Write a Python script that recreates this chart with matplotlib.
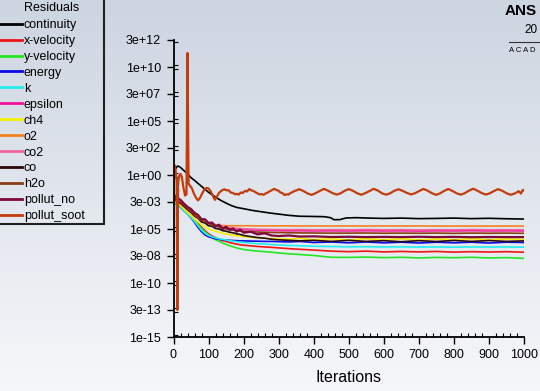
import numpy as np
import matplotlib
matplotlib.use('Agg')
import matplotlib.pyplot as plt
from matplotlib.colors import LinearSegmentedColormap
from matplotlib.lines import Line2D
from matplotlib.patches import Rectangle
from matplotlib.ticker import FixedLocator, MultipleLocator, FuncFormatter, NullFormatter

plt.rcParams['font.family'] = ['Liberation Sans', 'DejaVu Sans']

# iterations shared by most residual series
iters = [0, 4, 8, 12, 16, 20, 30, 40, 50, 60, 70,
         80, 90, 100, 110, 120, 130, 140, 150, 160, 170, 180,
         190, 200, 220, 240, 260, 280, 300, 330, 360, 400, 450,
         500, 550, 600, 650, 700, 750, 800, 850, 900, 950, 1000]

# all residuals given as log10(value)
continuity_iters = [0, 4, 8, 12, 16, 20, 30, 40, 50, 60, 70, 80, 90, 100,
                    110, 120, 135, 150, 165, 180, 200, 225, 250, 275, 300, 330, 360, 400,
                    430, 448, 458, 475, 492, 520, 560, 600, 650, 700, 750, 800, 850, 900, 950, 1000]
continuity = [0.1, 0.4, 0.7, 0.83, 0.78, 0.7, 0.4, 0.12, -0.25, -0.5, -0.78, -1.05, -1.33, -1.6,
              -1.83, -2.05, -2.35, -2.6, -2.83, -3.0, -3.12, -3.28, -3.4, -3.52, -3.62, -3.74, -3.82, -3.84,
              -3.86, -3.95, -4.14, -4.13, -3.98, -3.95, -3.99, -4.02, -3.99, -4.04, -4.02, -3.99, -4.04, -4.01, -4.05, -4.08]

x_velocity = [-2.5, -2.45, -2.6, -2.7, -2.8, -2.85, -3.25, -3.55, -3.85, -4.2, -4.5,
              -4.85, -5.15, -5.45, -5.65, -5.8, -5.95, -6.08, -6.15, -6.25, -6.33, -6.4,
              -6.46, -6.5, -6.56, -6.62, -6.66, -6.7, -6.75, -6.82, -6.88, -6.95, -7.05,
              -7.1, -7.05, -7.12, -7.08, -7.12, -7.08, -7.14, -7.1, -7.13, -7.1, -7.15]
y_velocity = [-2.6, -2.55, -2.65, -2.75, -2.85, -2.9, -3.3, -3.6, -3.9, -4.25, -4.6,
              -4.95, -5.25, -5.55, -5.8, -6.0, -6.15, -6.3, -6.42, -6.55, -6.65, -6.75,
              -6.83, -6.9, -6.98, -7.05, -7.1, -7.15, -7.22, -7.3, -7.36, -7.45, -7.62,
              -7.63, -7.6, -7.65, -7.62, -7.68, -7.63, -7.66, -7.62, -7.68, -7.65, -7.72]
energy = [-2.6, -2.5, -2.7, -2.8, -2.9, -3.0, -3.3, -3.6, -3.95, -4.4, -4.85,
          -5.25, -5.55, -5.72, -5.82, -5.9, -5.95, -6.0, -6.02, -6.05, -6.07, -6.08,
          -6.1, -6.1, -6.12, -6.13, -6.15, -6.15, -6.17, -6.2, -6.15, -6.25, -6.2,
          -6.28, -6.2, -6.28, -6.22, -6.3, -6.22, -6.28, -6.22, -6.3, -6.22, -6.25]
k_res = [-2.7, -2.6, -2.75, -2.85, -2.95, -3.0, -3.3, -3.6, -3.9, -4.3, -4.7,
         -5.1, -5.4, -5.6, -5.72, -5.82, -5.9, -5.96, -6.02, -6.07, -6.12, -6.17,
         -6.21, -6.25, -6.31, -6.36, -6.4, -6.44, -6.48, -6.52, -6.55, -6.6, -6.62,
         -6.65, -6.64, -6.66, -6.65, -6.67, -6.66, -6.68, -6.66, -6.67, -6.66, -6.68]
epsilon = [-2.3, -2.2, -2.35, -2.45, -2.5, -2.55, -2.8, -3.1, -3.35, -3.65, -3.9,
           -4.15, -4.3, -4.45, -4.55, -4.65, -4.72, -4.8, -4.86, -4.92, -4.96, -5.0,
           -5.03, -5.05, -5.08, -5.1, -5.12, -5.14, -5.15, -5.17, -5.16, -5.18, -5.17,
           -5.18, -5.16, -5.18, -5.17, -5.19, -5.17, -5.18, -5.16, -5.18, -5.17, -5.18]
ch4 = [-2.5, -2.4, -2.55, -2.65, -2.75, -2.8, -3.15, -3.45, -3.75, -4.05, -4.35,
       -4.6, -4.8, -4.98, -5.1, -5.2, -5.3, -5.4, -5.47, -5.52, -5.57, -5.62,
       -5.65, -5.7, -5.76, -5.8, -5.85, -5.88, -5.9, -5.95, -5.86, -6.0, -5.9,
       -6.02, -5.9, -6.0, -5.9, -6.02, -5.92, -6.0, -5.9, -6.0, -5.92, -5.98]
o2 = [-2.4, -2.3, -2.45, -2.55, -2.6, -2.65, -2.95, -3.25, -3.5, -3.8, -4.0,
      -4.2, -4.35, -4.47, -4.56, -4.62, -4.66, -4.68, -4.69, -4.7, -4.7, -4.7,
      -4.7, -4.7, -4.7, -4.71, -4.71, -4.71, -4.71, -4.71, -4.72, -4.72, -4.72,
      -4.72, -4.72, -4.72, -4.72, -4.72, -4.73, -4.73, -4.73, -4.73, -4.73, -4.73]
co2 = [-2.2, -2.1, -2.3, -2.4, -2.45, -2.5, -2.75, -3.05, -3.3, -3.6, -3.85,
       -4.1, -4.25, -4.4, -4.5, -4.6, -4.68, -4.75, -4.8, -4.85, -4.9, -4.93,
       -4.96, -4.98, -5.0, -5.02, -5.03, -5.04, -5.05, -5.06, -5.05, -5.07, -5.06,
       -5.07, -5.05, -5.07, -5.06, -5.08, -5.06, -5.07, -5.05, -5.07, -5.06, -5.07]
co = [-2.3, -2.2, -2.35, -2.45, -2.55, -2.6, -2.9, -3.2, -3.45, -3.8, -4.0,
      -4.35, -4.45, -4.7, -4.75, -4.95, -5.0, -5.15, -5.2, -5.3, -5.35, -5.45,
      -5.5, -5.6, -5.7, -5.8, -5.85, -5.95, -6.0, -6.05, -6.1, -6.05, -6.15,
      -6.05, -6.15, -6.08, -6.18, -6.08, -6.16, -6.06, -6.15, -6.07, -6.15, -6.1]
h2o = [-2.2, -2.1, -2.25, -2.35, -2.45, -2.5, -2.8, -3.1, -3.35, -3.7, -3.95,
       -4.2, -4.35, -4.5, -4.62, -4.72, -4.82, -4.92, -5.0, -5.05, -5.1, -5.15,
       -5.2, -5.22, -5.25, -5.28, -5.3, -5.32, -5.33, -5.35, -5.36, -5.37, -5.38,
       -5.38, -5.37, -5.39, -5.38, -5.39, -5.38, -5.4, -5.38, -5.39, -5.38, -5.4]
pollut_no = [-2.0, -1.9, -2.1, -2.05, -2.25, -2.3, -2.65, -2.95, -3.15, -3.5, -3.7,
             -4.1, -4.1, -4.45, -4.4, -4.75, -4.6, -5.0, -4.8, -5.1, -4.95, -5.25,
             -5.05, -5.35, -5.25, -5.5, -5.4, -5.6, -5.65, -5.6, -5.7, -5.68, -5.74,
             -5.72, -5.75, -5.73, -5.75, -5.72, -5.75, -5.73, -5.76, -5.74, -5.75, -5.75]

pollut_soot_iters = [0, 3, 6, 9, 11, 13, 16, 20, 24, 28, 33, 37, 40, 43, 47,
                     52, 58, 64, 70, 76, 82, 88, 94, 100, 106, 112, 118, 124, 130, 137,
                     145, 151, 157, 163, 169, 175, 181, 186, 192, 198, 204, 210,
                     216, 222, 228, 234, 240, 246, 252, 257, 263, 269, 275, 281,
                     287, 293, 299, 305, 311, 317, 323, 328, 334, 340, 346, 352,
                     358, 370, 382, 394, 405, 417,
                     429, 441, 453, 465, 476, 488, 500, 512, 524, 536, 547, 559,
                     571, 583, 595, 607, 618, 630, 642, 654, 666, 678, 689, 701,
                     713, 725, 737, 749, 760, 772, 784, 796, 808, 820, 831, 843,
                     855, 867, 879, 891, 902, 914, 926, 938, 950, 962, 973, 985,
                     991, 997, 1000]
pollut_soot = [0.3, 0.9, 0.4, -0.6, -12.5, -0.8, -0.1, 0.1, -0.2, -1.1, -1.9, -1.8, 11.3, -0.8, -1.0,
               -1.2, -1.7, -2.1, -2.35, -2.1, -1.7, -1.35, -1.2, -1.25, -1.5, -1.9, -2.3, -2.0, -1.65, -1.45,
               -1.32, -1.42, -1.40, -1.62, -1.66, -1.78, -1.74, -1.82, -1.62, -1.66, -1.47, -1.52,
               -1.30, -1.42, -1.48, -1.60, -1.70, -1.80, -1.76, -1.84, -1.70, -1.62, -1.50, -1.40,
               -1.28, -1.38, -1.44, -1.62, -1.68, -1.86, -1.78, -1.82, -1.66, -1.58, -1.46, -1.42,
               -1.31, -1.47, -1.70, -1.84, -1.69, -1.48,
               -1.29, -1.45, -1.67, -1.81, -1.71, -1.47, -1.30, -1.46, -1.69, -1.83, -1.68, -1.49,
               -1.28, -1.44, -1.70, -1.82, -1.70, -1.46, -1.32, -1.47, -1.66, -1.80, -1.69, -1.48,
               -1.29, -1.45, -1.68, -1.84, -1.71, -1.47, -1.30, -1.48, -1.70, -1.82, -1.68, -1.45,
               -1.27, -1.45, -1.67, -1.81, -1.70, -1.49, -1.31, -1.46, -1.69, -1.83, -1.72, -1.50,
               -1.72, -1.38, -1.42]

labels = ['continuity', 'x-velocity', 'y-velocity', 'energy', 'k', 'epsilon', 'ch4',
          'o2', 'co2', 'co', 'h2o', 'pollut_no', 'pollut_soot']
colors = ['#000000', '#f01414', '#22e622', '#0a0ae6', '#22eeee', '#f0109a', '#f5ef00',
          '#f5801e', '#f2649c', '#2a0808', '#8c3c14', '#7d0a3c', '#c23c0c']


def main():
    fig = plt.figure(figsize=(5.4, 3.91), dpi=100)

    # background gradient
    bg = fig.add_axes([0, 0, 1, 1], zorder=-10)
    cmap = LinearSegmentedColormap.from_list('bg', ['#f6f7fa', '#cdd5e1'])
    bg.imshow(np.linspace(0, 1, 256).reshape(-1, 1), cmap=cmap, origin='lower',
              aspect='auto', extent=[0, 1, 0, 1])
    bg.axis('off')

    ax = fig.add_axes([173.5 / 540, 1 - 337 / 391, 350.5 / 540, 297 / 391])
    ax.patch.set_alpha(0)

    series = [(continuity_iters, continuity), (iters, x_velocity), (iters, y_velocity),
              (iters, energy), (iters, k_res), (iters, epsilon), (iters, ch4), (iters, o2),
              (iters, co2), (iters, co), (iters, h2o), (iters, pollut_no),
              (pollut_soot_iters, pollut_soot)]
    for (xs, ys), lab, col in zip(series, labels, colors):
        lw = 1.6 if lab in ('pollut_no', 'pollut_soot') else 1.2
        ax.plot(xs, np.power(10.0, ys), color=col, lw=lw, label=lab)

    ax.set_yscale('log')
    ax.set_xlim(0, 1000)
    ax.set_ylim(1e-15, 10 ** 12.5)

    major_y = [10 ** (-15 + 2.5 * i) for i in range(12)]
    ax.yaxis.set_major_locator(FixedLocator(major_y))
    ax.yaxis.set_major_formatter(FuncFormatter(lambda v, p: f'{v:.0e}'))
    minor_y = [m * 10 ** d for m in major_y for d in (-0.2, 0.2) if 1e-15 < m * 10 ** d < 10 ** 12.5]
    ax.yaxis.set_minor_locator(FixedLocator(minor_y))
    ax.yaxis.set_minor_formatter(NullFormatter())
    ax.xaxis.set_major_locator(MultipleLocator(100))
    ax.xaxis.set_minor_locator(MultipleLocator(20))

    ax.tick_params(which='major', direction='out', length=5, width=1, labelsize=9,
                   colors='black', pad=4)
    ax.tick_params(which='minor', direction='in', length=3, width=0.8)
    for side in ('top', 'right'):
        ax.spines[side].set_visible(False)
    for side in ('left', 'bottom'):
        ax.spines[side].set_linewidth(1.3)

    ax.set_xlabel('Iterations', fontsize=11.5, labelpad=6)

    # legend block in the upper left corner
    handles = [Line2D([0], [0], color=c, lw=2) for c in colors]
    fig.legend(handles, labels, loc='upper left', bbox_to_anchor=(0, 1 - 19 / 391),
               frameon=False, fontsize=9, handlelength=1.8, handletextpad=0.1,
               labelspacing=0.315, borderpad=0, borderaxespad=0)
    fig.text(52 / 540, 1 - 8 / 391, 'Residuals', ha='center', va='center', fontsize=9)
    fig.patches.append(Rectangle((-5 / 540, 1 - 224 / 391), 109 / 540, 230 / 391,
                                 transform=fig.transFigure, fill=False,
                                 edgecolor='#202020', lw=1.5))

    # logo, only the part that fits inside the picture
    fig.text(505 / 540, 1 - 11 / 391, 'ANS', fontsize=11, fontweight='bold',
             va='center', ha='left')
    fig.text(524 / 540, 1 - 30 / 391, '20', fontsize=8.5, va='center', ha='left')
    fig.add_artist(Line2D([509 / 540, 1], [1 - 42 / 391, 1 - 42 / 391],
                          transform=fig.transFigure, color='#333333', lw=0.8))
    fig.text(509 / 540, 1 - 50 / 391, 'A C A D', fontsize=5.5, va='center', ha='left')

    fig.savefig('out.png', dpi=100)


if __name__ == "__main__":
    main()
